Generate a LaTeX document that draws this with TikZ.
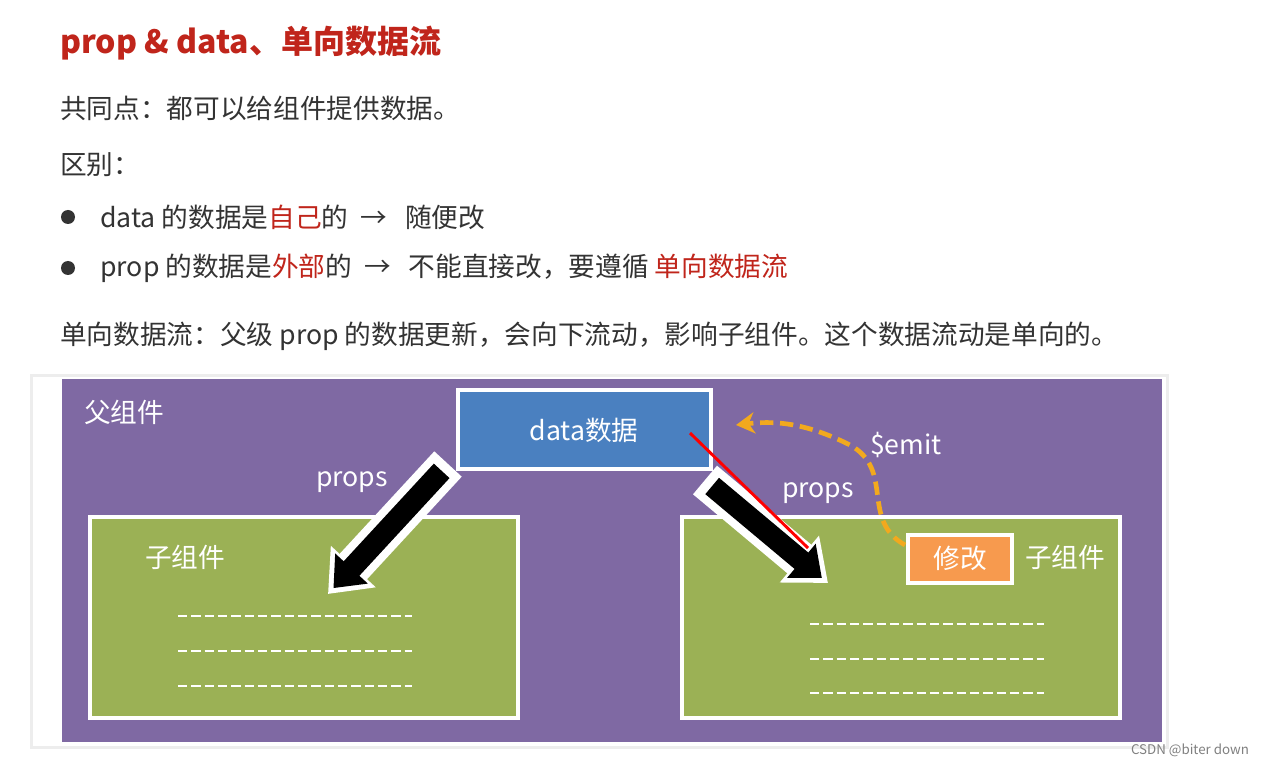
\documentclass[tikz,border=0pt]{standalone}
\usepackage{fontspec}
\setmainfont{Noto Sans CJK SC}
\usetikzlibrary{calc,arrows.meta}
\definecolor{ttl}{HTML}{C0251B}
\definecolor{purp}{HTML}{7F69A3}
\definecolor{blu}{HTML}{4A80C0}
\definecolor{grn}{HTML}{9BB155}
\definecolor{org}{HTML}{F79A4E}
\definecolor{emitc}{HTML}{F2A91E}
\definecolor{txt}{HTML}{333333}
\tikzset{
  body/.style={anchor=west,text=txt,font=\fontsize{20}{23}\selectfont,inner sep=0},
  wtxt/.style={text=white,font=\fontsize{20}{23}\selectfont,inner sep=0},
  box/.style={draw=white,line width=3.5pt},
  dline/.style={white,line width=1pt,dash pattern=on 7pt off 3pt},
}
\begin{document}
\begin{tikzpicture}[x=0.75pt,y=-0.75pt]
\useasboundingbox (0,0) rectangle (1263,766);
\fill[white] (0,0) rectangle (1263,766);
\node[anchor=west,text=ttl,font=\fontsize{24}{27}\selectfont\bfseries,inner sep=0] (title) at (60,43) {prop \& data、单向数据流};
\node[body] (t1) at (60,108) {共同点：都可以给组件提供数据。};
\node[body] (t2) at (60,165) {区别：};
\fill[txt] (68,217) circle (7);
\fill[txt] (68,268) circle (7);
\node[body] (b1) at (100,217) {data 的数据是\textcolor{ttl}{自己}的 \ → \ \ 随便改};
\node[body] (b2) at (100,268) {prop 的数据是\textcolor{ttl}{外部}的 \ → \ \ 不能直接改，要遵循 \textcolor{ttl}{单向数据流}};
\node[body] (t3) at (60,336) {单向数据流：父级 prop 的数据更新，会向下流动，影响子组件。这个数据流动是单向的。};
% frame
\fill[black!7] (30,374) rectangle (1169,749);
\fill[white] (33,377) rectangle (1166,746);
\fill[purp] (62,379) rectangle (1162,742);
\node[wtxt,anchor=west] (fu) at (84,412) {父组件};
% boxes
\path[box,fill=grn] (90,517) rectangle (518,718);
\path[box,fill=grn] (682,517) rectangle (1120,718);
\path[box,fill=blu] (458,390) rectangle (711,469);
\node[wtxt] (data) at (584,430) {data数据};
\node[wtxt] (c1) at (185,557) {子组件};
\node[wtxt] (c2) at (1065,557) {子组件};
\path[box,fill=org] (908,535) rectangle (1012,583);
\node[wtxt] (xg) at (960,558) {修改};
\foreach \y in {616,651,686} \draw[dline] (178,\y) -- (412,\y);
\foreach \y in {624,659,693} \draw[dline] (810,\y) -- (1044,\y);
% fat arrows
\coordinate (la) at (448,464); \coordinate (lb) at (328,594);
\coordinate (ra) at (705,480); \coordinate (rb) at (828,583);
\foreach \s/\e in {la/lb,ra/rb}{
  \draw[white,line width=28pt,-{Triangle[width=44pt,length=28pt]}] (\s) -- (\e);
}
\foreach \s/\e in {la/lb,ra/rb}{
  \draw[black,line width=16pt,shorten >=6pt,shorten <=7pt,-{Triangle[width=32pt,length=20pt]}] (\s) -- (\e);
}
\draw[red,line width=2.2pt] (690,433) -- (808,548);
\node[wtxt] (p1) at (352,482) {props};
\node[wtxt] (p2) at (818,493) {props};
\node[wtxt] (emit) at (906,445) {\$emit};
\coordinate (es) at (905,545);
\draw[emitc,line width=3.5pt,dash pattern=on 10pt off 5pt,-{Stealth[length=14pt,width=16pt]}]
  (es) .. controls (860,520) and (895,470) .. (850,445) .. controls (810,425) and (780,420) .. (736,425);
\node[text=gray,font=\fontsize{10}{12}\selectfont,inner sep=0] (wm) at (1190,750) {CSDN @biter down};
\end{tikzpicture}
\end{document}
